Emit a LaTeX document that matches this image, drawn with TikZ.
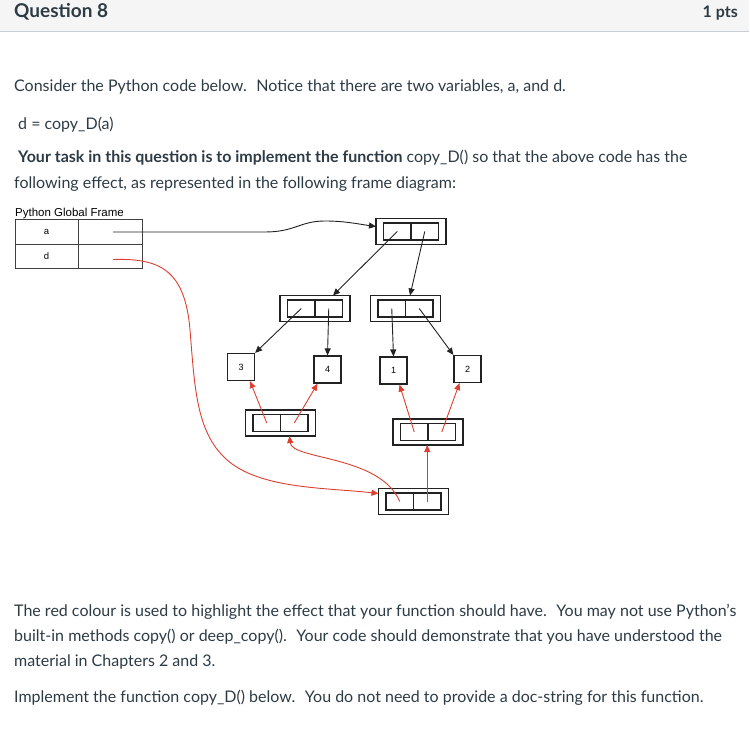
\documentclass[tikz,border=0pt]{standalone}
\usepackage{fontspec}
\setmainfont{Lato}
\newfontfamily\diagfont{Liberation Sans}
\usetikzlibrary{positioning,arrows.meta}
\definecolor{hdrGray}{HTML}{F5F5F5}
\definecolor{ruleGray}{HTML}{C7CDD1}
\definecolor{textDark}{HTML}{2D3B45}
\definecolor{boxBlack}{HTML}{222222}
\definecolor{ptrRed}{HTML}{DC3F30}
\tikzset{
  cell/.style={draw=boxBlack, line width=1.1pt, minimum width=27.5pt, minimum height=17pt,
               inner sep=0pt, outer sep=0pt},
  obj/.style={draw=boxBlack, line width=1.4pt, minimum width=70pt, minimum height=26pt,
              inner sep=0pt, outer sep=0pt},
  val/.style={draw=boxBlack, line width=1.2pt, minimum size=27pt, inner sep=0pt,
              font=\diagfont\fontsize{9}{10}\selectfont},
  fkey/.style={draw=black!75, line width=0.8pt, minimum width=63pt, minimum height=24.5pt,
               inner sep=0pt, outer sep=0pt, font=\diagfont\fontsize{9.5}{10}\selectfont},
  fval/.style={fkey, minimum width=64pt},
  ptr/.style={-{Triangle[length=7pt,width=6pt]}, line width=0.9pt, boxBlack},
  rptr/.style={-{Triangle[length=7pt,width=6pt]}, line width=0.9pt, ptrRed},
  txt/.style={anchor=base west, inner sep=0pt, font=\fontsize{16}{19}\selectfont, text=textDark},
}
\begin{document}
\begin{tikzpicture}[x=1pt, y=-1pt]
    \useasboundingbox (0,0) rectangle (749,754);
    % header bar
    \fill[hdrGray] (0,0) rectangle (749,32);
    \draw[ruleGray, line width=1pt] (0,32) -- (749,32);
    \node[txt, font=\fontsize{19}{21}\selectfont\bfseries] (qtitle) at (14,18) {Question 8};
    \node[txt, anchor=base east, font=\fontsize{16}{19}\selectfont\bfseries] (qpts) at (738,18) {1 pts};

    % question text
    \node[txt] (line1) at (14,92) {Consider the Python code below.~ Notice that there are two variables, a, and d.};
    \node[txt] (line2) at (18,130) {d = copy\_D(a)};
    \node[txt] (line3) at (18,163) {\textbf{Your task in this question is to implement the function} copy\_D() so that the above code has the};
    \node[txt] (line4) at (14,188) {following effect, as represented in the following frame diagram:};

    % global frame
    \node[anchor=base west, inner sep=0pt, font=\diagfont\fontsize{11.5}{12}\selectfont] (ftitle) at (15,216) {Python Global Frame};
    \node[fkey] (fa) at (46.5,232) {a};
    \node[fval, right=0pt of fa] (fav) {};
    \node[fkey, below=0pt of fa] (fd) {d};
    \node[fval, right=0pt of fd] (fdv) {};

    % list objects
    \node[obj] (top) at (411,231.5) {};
    \node[cell, left=0pt of top.center] (top1) {};
    \node[cell, right=0pt of top.center] (top2) {};

    \node[obj] (ml) at (315,308.5) {};
    \node[cell, left=0pt of ml.center] (ml1) {};
    \node[cell, right=0pt of ml.center] (ml2) {};

    \node[obj] (mr) at (405.5,308.5) {};
    \node[cell, left=0pt of mr.center] (mr1) {};
    \node[cell, right=0pt of mr.center] (mr2) {};

    \node[val] (v3) at (241,367) {3};
    \node[val] (v4) at (327.5,369.5) {4};
    \node[val] (v1) at (393.5,370.5) {1};
    \node[val] (v2) at (467.5,369) {2};

    % copies
    \node[obj] (ll) at (280.5,423) {};
    \node[cell, left=0pt of ll.center] (ll1) {};
    \node[cell, right=0pt of ll.center] (ll2) {};

    \node[obj] (lr) at (428,432) {};
    \node[cell, left=0pt of lr.center] (lr1) {};
    \node[cell, right=0pt of lr.center] (lr2) {};

    \node[obj] (bot) at (413.5,501.5) {};
    \node[cell, left=0pt of bot.center] (bot1) {};
    \node[cell, right=0pt of bot.center] (bot2) {};

    % original references
    \draw[ptr] ([xshift=3pt]fav.center) -- (265,232) .. controls (295,232) and (300,221) .. (325,221)
      .. controls (345,221) and (358,224) .. ([yshift=5pt]top.west);
    \draw[ptr] (top1.center) -- ([xshift=18pt]ml.north);
    \draw[ptr] (top2.center) -- ([xshift=4.5pt]mr.north);
    \draw[ptr] (ml1.center) -- (v3.north east);
    \draw[ptr] (ml2.center) -- (v4.north);
    \draw[ptr] (mr1.center) -- (v1.north);
    \draw[ptr] (mr2.center) -- (v2.north west);

    % what copy_D adds
    \draw[rptr] (ll1.center) -- ([xshift=9pt]v3.south);
    \draw[rptr] (ll2.center) -- ([xshift=-10pt]v4.south);
    \draw[rptr] (lr1.center) -- ([xshift=6pt]v1.south);
    \draw[rptr] (lr2.center) -- ([xshift=-8pt]v2.south);
    \draw[rptr] (bot2.center) -- (bot2.center |- lr.south);
    \draw[rptr] (bot1.center) .. controls (380,455) and (292,460) .. ([xshift=9pt]ll.south);
    \draw[rptr] ([shift={(3pt,-3pt)}]fdv.center) .. controls (160,258) and (185,270) .. (190,330)
      .. controls (195,390) and (196,440) .. (235,466)
      .. controls (270,489) and (330,488) .. ([yshift=8pt]bot.west);

    % closing text
    \node[txt] (line5) at (14,616) {The red colour is used to highlight the effect that your function should have.~ You may not use Python's};
    \node[txt] (line6) at (14,641) {built-in methods copy() or deep\_copy().~ Your code should demonstrate that you have understood the};
    \node[txt] (line7) at (14,666) {material in Chapters 2 and 3.};
    \node[txt] (line8) at (14,702) {Implement the function copy\_D() below.~ You do not need to provide a doc-string for this function.};
\end{tikzpicture}
\end{document}
